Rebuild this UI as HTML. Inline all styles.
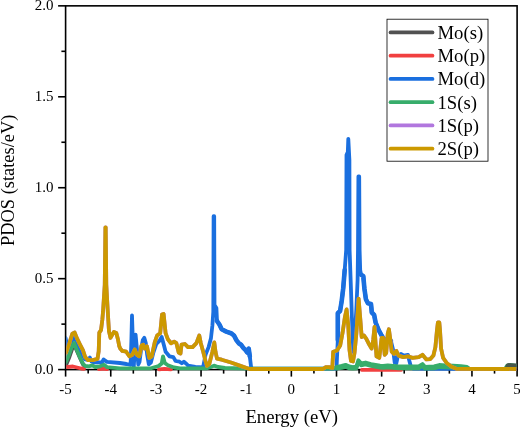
<!DOCTYPE html>
<html><head><meta charset="utf-8"><title>PDOS</title>
<style>html,body{margin:0;padding:0;background:#fff;overflow:hidden}body{width:520px;height:427px;position:relative}</style>
</head><body>
<svg width="520" height="427" viewBox="0 0 520 427" style="position:absolute;left:0;top:0">
<rect x="0" y="0" width="520" height="427" fill="#fff"/>
<g stroke="#000" stroke-width="1.6" fill="none" stroke-linecap="butt">
<rect x="65.6" y="5.85" width="451.5" height="363.75"/>
<path d="M58.1 369.6 H65.6"/>
<path d="M61.4 324.131 H65.6"/>
<path d="M58.1 278.663 H65.6"/>
<path d="M61.4 233.194 H65.6"/>
<path d="M58.1 187.725 H65.6"/>
<path d="M61.4 142.256 H65.6"/>
<path d="M58.1 96.7875 H65.6"/>
<path d="M61.4 51.3188 H65.6"/>
<path d="M58.1 5.85 H65.6"/>
<path d="M65.6 369.6 V376.6"/>
<path d="M88.175 369.6 V373.6"/>
<path d="M110.75 369.6 V376.6"/>
<path d="M133.325 369.6 V373.6"/>
<path d="M155.9 369.6 V376.6"/>
<path d="M178.475 369.6 V373.6"/>
<path d="M201.05 369.6 V376.6"/>
<path d="M223.625 369.6 V373.6"/>
<path d="M246.2 369.6 V376.6"/>
<path d="M268.775 369.6 V373.6"/>
<path d="M291.35 369.6 V376.6"/>
<path d="M313.925 369.6 V373.6"/>
<path d="M336.5 369.6 V376.6"/>
<path d="M359.075 369.6 V373.6"/>
<path d="M381.65 369.6 V376.6"/>
<path d="M404.225 369.6 V373.6"/>
<path d="M426.8 369.6 V376.6"/>
<path d="M449.375 369.6 V373.6"/>
<path d="M471.95 369.6 V376.6"/>
<path d="M494.525 369.6 V373.6"/>
<path d="M517.1 369.6 V376.6"/>
</g>
<clipPath id="c"><rect x="66.3" y="0" width="450.1" height="380"/></clipPath>
<g clip-path="url(#c)" fill="none" stroke-width="3.8" stroke-linejoin="round" stroke-linecap="round">
<path stroke="#515151" d="M66.1 365 L69.4 357 L72.5 348 L74.5 345 L76.5 350 L80 358 L83 364.5 L85 366.5"/>
<path stroke="#F14040" d="M66.1 367.1 L72.9 366.5 L81.1 368.5 L84 368.8 M99 369.1 L103 368.5 L107 369.1 M159 369.3 L164.5 368.8 L171 369.3 M362 369.9 L401 369.9"/>
<path stroke="#1A6FDF" d="M65.6 338 L67 345 L69 347 L71 343 L73 338.5 L74.7 337.5 L77 343 L80 350 L83 356 L85.2 359.5 L87.7 360 L89.9 357.6 L91.5 361.5 L94 362.4 L102 362.4 L103.6 359.5 L106.9 361.9 L120 363 L126.4 364 L130.6 364.8 L131.4 340 L132 315.5 L132.8 340 L133.8 366.6 L135.6 334.7 L136.9 348.6 L138.3 364.5 L139.5 362 L141.3 348 L142.8 340 L144.3 337.8 L145.8 343 L147.2 355 L148.8 364.3 L150.9 362.5 L153.2 353.2 L156.3 344 L159.4 340.9 L161.7 337 L164 345.5 L165.6 351.7 L169.4 356.3 L173.3 357.1 L175.6 361 L179.5 361.7 L181.8 363.3 L183.9 361.7 L187 364.4 L188 365.6 L195.4 366.8 L203 367.5 L204.5 360 L205.5 354.8 L208.6 347.1 L210.9 338.6 L212.4 325.4 L213.3 312 L213.6 216.2 L214.2 216.2 L214.5 305 L216.4 308 L217 321 L219.4 324.5 L221.7 329.3 L226.3 331.6 L231 333.2 L234 335.5 L236.4 340.1 L238.7 343.2 L241 344.7 L243.3 347.8 L245.6 350.2 L247.2 352.5 L248.7 348.6 L249.8 356.3 L251 366.4 L252 368.7 L336.5 368.7 L337.8 340 L337.8 313.2 L340.1 311 L341.7 300.9 L343.2 288.5 L344.7 270 L346.2 250 L346.5 155 L347.8 152 L348.3 138.8 L349.4 160 L349.6 250 L351 290 L352 320 L353.3 352 L354.5 340 L356.3 310 L357.6 280 L358 250 L358.4 176.5 L359.2 176.5 L359.6 250 L360.2 270 L361 274.6 L363.3 276.2 L364.4 288.5 L365.9 299.3 L367.9 303.2 L371 304 L371.8 312.5 L374.1 314.8 L375.6 322.5 L378.7 330.2 L381.6 335.5 L384 339.3 L390.9 340.9 L393.2 350.2 L394.7 362.5 L396.3 363.3 L397.8 356.3 L400.9 354 L404 355.6 L407.9 354.8 L409.4 361 L411 367 L413 368.6 L455 368.8 L517 369"/>
<path stroke="#1A6FDF" stroke-width="4.6" d="M217 321 L219.4 324.5 L221.7 329.3 L226.3 331.6 L231 333.2 L234 335.5 L236.4 340.1 L238.7 343.2 L241 344.7 L243.3 347.8 L245.6 350.2 L247.2 352.5 L248.7 348.6 L249.8 356.3 M337.8 340 L337.8 313.2 L340.1 311 L341.7 300.9 L343.2 288.5 L344.7 270 M361 274.6 L363.3 276.2 L364.4 288.5 L365.9 299.3 L367.9 303.2 L371 304 L371.8 312.5 L374.1 314.8 L375.6 322.5 L378.7 330.2 L381.6 335.5 L384 339.3 L390.9 340.9"/>
<path stroke="#37AD6B" d="M66.1 361.9 L69.4 353.7 L72.3 345.4 L74.1 343.1 L76.4 349 L79.9 357.2 L82.9 363.6 L85.2 366 L89.3 366.3 L92.2 365.4 L95.2 367 L99.9 366.3 L104 364.8 L106.9 367.1 L120 368.3 L151 368.3 L158.6 366 L161.7 363.5 L163 356.3 L164.8 363 L167.9 365.2 L174 367.5 L180 368.3 L207 368.3 L211 367 L214 365.6 L218 367 L225 368 L250 368.7 L333 368.7 L336.3 367.1 L341.7 365.9 L345.6 364.8 L349.4 366.4 L353 367 L356.4 366.4 L358.4 360.2 L361 363.3 L365.6 362.5 L371 364 L380 365.6 L383.2 365.9 L387.8 365.3 L398.6 366.4 L418.7 366.4 L422.5 364 L424.9 366.8 L434.1 366.4 L439.3 365 L445.4 365.3 L453 365.6 L460.9 366.2 L467 367 L469.4 369 L505 369 L507.2 365.5 L510 365 L517 366"/>
<path stroke="#37AD6B" d="M336.3 368.6 L341.7 367.9 L345.6 366.8 L349.4 368.4 L353 368.6 L356.4 368.4 L358.4 362.2 L361 365.3 L365.6 364.5 L371 366 L380 367.6 L383.2 367.9 L387.8 367.3 L398.6 368.4 L418.7 368.4 L422.5 366 L424.9 368.6 L434.1 368.4 L439.3 367 L445.4 367.3 L453 367.6 L460.9 368.2 L467 368.6 L469.4 368.6"/>
<path stroke="none" fill="#46574c" d="M504.6 369 L506.4 364 L508.5 363.2 L511 363.6 L516.5 363.8 V369 Z"/>
<path stroke="#B177DE" d="M66.1 352.5 L69.4 343.1 L72.3 333.7 L74.7 332.6 L77 338.4 L79.9 344.3 L82.9 350.1 L85.2 357.2 L88.1 360.1 L92.8 360.1 L97.5 358.9 L98.7 351.3 L99.3 332.6 L101 330.2 L102.3 320 L103 312 L104.75 284.5 L105.4 227.3 L105.7 227.3 L106.3 284.5 L107.8 312 L108.4 322 L109 331.4 L110.5 337.8 L112.2 334.9 L113.9 332 L116.3 333.1 L118 339.6 L119.2 346 L120.2 348.5 L122.3 350.9 L126.2 351.7 L129.3 356.3 L132.4 354.8 L134.7 349.4 L137 354.8 L139.3 356.3 L141.6 345.5 L143.2 344.7 L144.7 348.6 L147 346.3 L149.3 357.9 L151.7 356.3 L154.7 342.4 L157.1 335.5 L160.2 333.2 L162 314.6 L163.6 313.9 L165.6 333.2 L167.9 339.3 L171 343.2 L174.1 341.7 L176.4 343.2 L178.7 352.5 L180.5 353.5 L181.5 344.7 L184.9 344 L188 347.1 L192.6 347.1 L196.4 343.2 L199.3 335.5 L200.8 343.2 L203.2 351.7 L205.5 361 L207 365.9 L209.3 364 L212.4 351.7 L214.3 342.4 L215.5 351.7 L217 358.6 L221.7 359.7 L231 362.5 L241.8 366.4 L249.5 369 L323 369 L325.5 367.2 L329 367.2 L332.3 368 L333.2 351.7 L337 350.5 L340.2 345.5 L342.5 333.2 L344.8 317.7 L346.6 309.4 L348.2 325 L349.5 350 L351 361 L353 361.5 L354.5 353 L356.4 333 L358.6 298.6 L360.2 318 L360.8 325.4 L361.7 337 L363.9 335.5 L366.2 338.6 L368.5 343.2 L371.6 348.6 L373.2 340 L374.5 327 L375.5 342 L376.5 356.3 L379.3 357.9 L381.6 338 L383.2 338 L384.7 354.8 L386.2 353 L387.8 333.2 L388.9 329.3 L390.1 337.8 L391.7 351.7 L394 354 L396.3 350.9 L398.6 355.6 L403.2 357.1 L407.9 356.3 L412.5 357.9 L418.7 357.1 L422.5 354.8 L426.4 359.4 L430.3 359.1 L433.4 355.5 L435.4 347.1 L437 330 L437.9 322.4 L439.3 322.4 L440 330 L441.1 348.6 L443.1 357.9 L447 363.3 L451.6 366.8 L456.3 368.8 L517 369"/>
<path stroke="none" fill="#46574c" d="M504.6 369 L506.4 364 L508.5 363.2 L511 363.6 L516.5 363.8 V369 Z"/>
<path stroke="#CC9900" d="M66.1 352.5 L69.4 343.1 L72.3 333.7 L74.7 332.6 L77 338.4 L79.9 344.3 L82.9 350.1 L85.2 357.2 L88.1 360.1 L92.8 360.1 L97.5 358.9 L98.7 351.3 L99.3 332.6 L101 330.2 L102.3 320 L103 312 L104.75 284.5 L105.4 227.3 L105.7 227.3 L106.3 284.5 L107.8 312 L108.4 322 L109 331.4 L110.5 337.8 L112.2 334.9 L113.9 332 L116.3 333.1 L118 339.6 L119.2 346 L120.2 348.5 L122.3 350.9 L126.2 351.7 L129.3 356.3 L132.4 354.8 L134.7 349.4 L137 354.8 L139.3 356.3 L141.6 345.5 L143.2 344.7 L144.7 348.6 L147 346.3 L149.3 357.9 L151.7 356.3 L154.7 342.4 L157.1 335.5 L160.2 333.2 L162 314.6 L163.6 313.9 L165.6 333.2 L167.9 339.3 L171 343.2 L174.1 341.7 L176.4 343.2 L178.7 352.5 L180.5 353.5 L181.5 344.7 L184.9 344 L188 347.1 L192.6 347.1 L196.4 343.2 L199.3 335.5 L200.8 343.2 L203.2 351.7 L205.5 361 L207 365.9 L209.3 364 L212.4 351.7 L214.3 342.4 L215.5 351.7 L217 358.6 L221.7 359.7 L231 362.5 L241.8 366.4 L249.5 369 L323 369 L325.5 367.2 L329 367.2 L332.3 368 L333.2 351.7 L337 350.5 L340.2 345.5 L342.5 333.2 L344.8 317.7 L346.6 309.4 L348.2 325 L349.5 350 L351 361 L353 361.5 L354.5 353 L356.4 333 L358.6 298.6 L360.2 318 L360.8 325.4 L361.7 337 L363.9 335.5 L366.2 338.6 L368.5 343.2 L371.6 348.6 L373.2 340 L374.5 327 L375.5 342 L376.5 356.3 L379.3 357.9 L381.6 338 L383.2 338 L384.7 354.8 L386.2 353 L387.8 333.2 L388.9 329.3 L390.1 337.8 L391.7 351.7 L394 354 L396.3 350.9 L398.6 355.6 L403.2 357.1 L407.9 356.3 L412.5 357.9 L418.7 357.1 L422.5 354.8 L426.4 359.4 L430.3 359.1 L433.4 355.5 L435.4 347.1 L437 330 L437.9 322.4 L439.3 322.4 L440 330 L441.1 348.6 L443.1 357.9 L447 363.3 L451.6 366.8 L456.3 368.8 L517 369"/>
</g>
<rect x="387" y="19.2" width="101" height="142" fill="#fff" stroke="#000" stroke-width="0.8"/>
<g font-family="'Liberation Serif', serif" font-size="18.7" fill="#000">
<path d="M390.5 32.4 H432.5" stroke="#515151" stroke-width="3.7" stroke-linecap="round"/>
<text x="437.5" y="38.9">Mo(s)</text>
<path d="M390.5 55.65 H432.5" stroke="#F14040" stroke-width="3.7" stroke-linecap="round"/>
<text x="437.5" y="62.15">Mo(p)</text>
<path d="M390.5 78.9 H432.5" stroke="#1A6FDF" stroke-width="3.7" stroke-linecap="round"/>
<text x="437.5" y="85.4">Mo(d)</text>
<path d="M390.5 102.15 H432.5" stroke="#37AD6B" stroke-width="3.7" stroke-linecap="round"/>
<text x="437.5" y="108.65">1S(s)</text>
<path d="M390.5 125.4 H432.5" stroke="#B177DE" stroke-width="3.7" stroke-linecap="round"/>
<text x="437.5" y="131.9">1S(p)</text>
<path d="M390.5 148.65 H432.5" stroke="#CC9900" stroke-width="3.7" stroke-linecap="round"/>
<text x="437.5" y="155.15">2S(p)</text>
<text x="291.7" y="422.8" text-anchor="middle">Energy (eV)</text>
<text transform="translate(14.4 180.3) rotate(-90)" text-anchor="middle" font-size="18.4">PDOS (states/eV)</text>
</g>
<g font-family="'Liberation Serif', serif" font-size="15" fill="#000">
<text x="53.5" y="374.2" text-anchor="end">0.0</text>
<text x="53.5" y="283.263" text-anchor="end">0.5</text>
<text x="53.5" y="192.325" text-anchor="end">1.0</text>
<text x="53.5" y="101.388" text-anchor="end">1.5</text>
<text x="53.5" y="10.45" text-anchor="end">2.0</text>
<text x="65.6" y="394" text-anchor="middle">-5</text>
<text x="110.75" y="394" text-anchor="middle">-4</text>
<text x="155.9" y="394" text-anchor="middle">-3</text>
<text x="201.05" y="394" text-anchor="middle">-2</text>
<text x="246.2" y="394" text-anchor="middle">-1</text>
<text x="291.35" y="394" text-anchor="middle">0</text>
<text x="336.5" y="394" text-anchor="middle">1</text>
<text x="381.65" y="394" text-anchor="middle">2</text>
<text x="426.8" y="394" text-anchor="middle">3</text>
<text x="471.95" y="394" text-anchor="middle">4</text>
<text x="517.1" y="394" text-anchor="middle">5</text>
</g>
</svg>
</body></html>
